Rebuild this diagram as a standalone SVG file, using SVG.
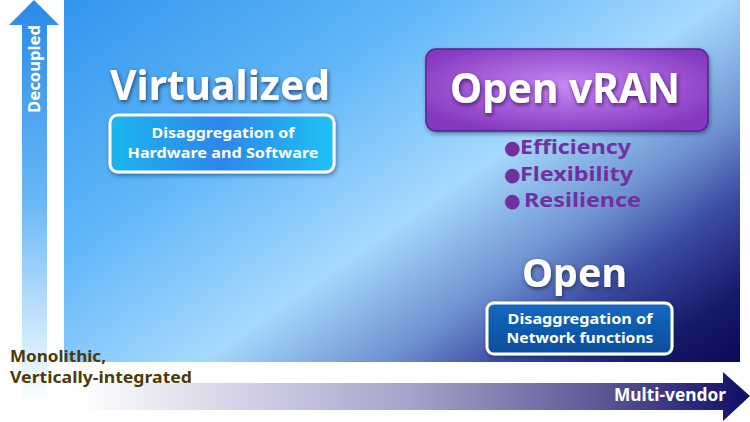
<svg xmlns="http://www.w3.org/2000/svg" width="750" height="422" viewBox="0 0 750 422">
<defs>
<style>
text{font-family:"Noto Sans","DejaVu Sans",sans-serif;font-weight:bold}
.w{fill:#ffffff}
.bul{fill:#7030a0;font-size:20px}
.dot{font-size:19px}
.lbl{fill:#ffffff;font-size:15px;text-anchor:middle}
.brown{fill:#4d3a06;font-size:16px}
</style>
<linearGradient id="bg" gradientUnits="userSpaceOnUse" x1="64" y1="0" x2="453" y2="560">
<stop offset="0" stop-color="#3296ee"/>
<stop offset="0.3" stop-color="#60b6f8"/>
<stop offset="0.55" stop-color="#a6d9fd"/>
<stop offset="0.7" stop-color="#7094d2"/>
<stop offset="0.8" stop-color="#3c4ca2"/>
<stop offset="0.92" stop-color="#161868"/>
<stop offset="1" stop-color="#0a0a5a"/>
</linearGradient>
<linearGradient id="vArrow" x1="0" y1="0" x2="0" y2="1">
<stop offset="0" stop-color="#2a8ae8"/>
<stop offset="0.5" stop-color="#6ab8f6"/>
<stop offset="0.85" stop-color="#d4ebfc"/>
<stop offset="1" stop-color="#ffffff"/>
</linearGradient>
<linearGradient id="hArrow" gradientUnits="userSpaceOnUse" x1="78" y1="0" x2="740" y2="0">
<stop offset="0" stop-color="#ffffff"/>
<stop offset="0.5" stop-color="#a6a4cc"/>
<stop offset="0.8" stop-color="#5a5494"/>
<stop offset="1" stop-color="#12126a"/>
</linearGradient>
<linearGradient id="virtBox" x1="0" y1="0" x2="1" y2="0">
<stop offset="0" stop-color="#1cb6f0"/>
<stop offset="0.5" stop-color="#2f86ea"/>
<stop offset="1" stop-color="#1ec2f4"/>
</linearGradient>
<linearGradient id="openBox" x1="0" y1="0" x2="0" y2="1">
<stop offset="0" stop-color="#1468c0"/>
<stop offset="1" stop-color="#0a4e9c"/>
</linearGradient>
<radialGradient id="vranBox" cx="0.5" cy="0.45" r="0.6">
<stop offset="0" stop-color="#c98af5"/>
<stop offset="1" stop-color="#8438bf"/>
</radialGradient>
<filter id="shadowText" x="-20%" y="-40%" width="140%" height="180%">
<feGaussianBlur in="SourceAlpha" stdDeviation="2.2" result="b"/>
<feOffset in="b" dx="1" dy="1.5" result="o"/>
<feFlood flood-color="#20305a" flood-opacity="0.85"/>
<feComposite in2="o" operator="in" result="s"/>
<feMerge><feMergeNode in="s"/><feMergeNode in="SourceGraphic"/></feMerge>
</filter>
<filter id="shadowPurple" x="-20%" y="-40%" width="140%" height="180%">
<feGaussianBlur in="SourceAlpha" stdDeviation="2.2" result="b"/>
<feOffset in="b" dx="1" dy="1.5" result="o"/>
<feFlood flood-color="#3c1060" flood-opacity="0.85"/>
<feComposite in2="o" operator="in" result="s"/>
<feMerge><feMergeNode in="s"/><feMergeNode in="SourceGraphic"/></feMerge>
</filter>
<filter id="boxShadow" x="-10%" y="-20%" width="120%" height="150%">
<feGaussianBlur in="SourceAlpha" stdDeviation="2" result="b"/>
<feOffset in="b" dx="1" dy="2" result="o"/>
<feFlood flood-color="#102040" flood-opacity="0.5"/>
<feComposite in2="o" operator="in" result="s"/>
<feMerge><feMergeNode in="s"/><feMergeNode in="SourceGraphic"/></feMerge>
</filter>
</defs>

<rect id="background" x="64" y="0" width="676" height="362" fill="url(#bg)"/>

<g id="connectors">
<polygon id="axis-vertical" points="34,0 59,25 47,25 47,404 22,404 22,25 9,25" fill="url(#vArrow)"/>
<polygon id="axis-horizontal" points="78,383 723,383 723,372 750,396 723,421 723,410 78,410" fill="url(#hArrow)"/>
</g>

<g id="label-decoupled">
<text class="w" font-size="16" text-anchor="middle" transform="translate(40,69) rotate(-90)" textLength="88" lengthAdjust="spacingAndGlyphs">Decoupled</text>
</g>

<g id="label-monolithic">
<text class="brown" x="10" y="362" textLength="96" lengthAdjust="spacingAndGlyphs">Monolithic,</text>
<text class="brown" x="10" y="383" textLength="182" lengthAdjust="spacingAndGlyphs">Vertically-integrated</text>
</g>

<g id="label-multivendor">
<text class="w" font-size="17" x="614" y="401" textLength="112" lengthAdjust="spacingAndGlyphs">Multi-vendor</text>
</g>

<g id="node-virtualized">
<text class="w" font-size="42" x="110" y="100" textLength="220" lengthAdjust="spacingAndGlyphs" filter="url(#shadowText)">Virtualized</text>
<rect x="110" y="115" width="224" height="57" rx="8" fill="url(#virtBox)" stroke="#ffffff" stroke-width="3" filter="url(#boxShadow)"/>
<text class="lbl" x="223" y="138" textLength="143" lengthAdjust="spacingAndGlyphs">Disaggregation of</text>
<text class="lbl" x="223" y="158" textLength="191" lengthAdjust="spacingAndGlyphs">Hardware and Software</text>
</g>

<g id="node-open-vran">
<rect x="426" y="49" width="282" height="82" rx="10" fill="url(#vranBox)" stroke="#5a2090" stroke-width="1.5" filter="url(#boxShadow)"/>
<text class="w" font-size="41" x="450" y="103" textLength="230" lengthAdjust="spacingAndGlyphs" filter="url(#shadowPurple)">Open vRAN</text>
<text class="bul" x="504" y="154"><tspan class="dot">●</tspan><tspan x="520" textLength="111" lengthAdjust="spacingAndGlyphs">Efficiency</tspan></text>
<text class="bul" x="504" y="181"><tspan class="dot">●</tspan><tspan x="520" textLength="113" lengthAdjust="spacingAndGlyphs">Flexibility</tspan></text>
<text class="bul" x="504" y="207"><tspan class="dot">●</tspan><tspan x="524" textLength="117" lengthAdjust="spacingAndGlyphs">Resilience</tspan></text>
</g>

<g id="node-open">
<text class="w" font-size="40" x="522" y="287" textLength="105" lengthAdjust="spacingAndGlyphs" filter="url(#shadowText)">Open</text>
<rect x="487" y="303" width="185" height="51" rx="7" fill="url(#openBox)" stroke="#ffffff" stroke-width="3" filter="url(#boxShadow)"/>
<text class="lbl" x="580" y="324" textLength="145" lengthAdjust="spacingAndGlyphs">Disaggregation of</text>
<text class="lbl" x="580" y="343" textLength="147" lengthAdjust="spacingAndGlyphs">Network functions</text>
</g>
</svg>
